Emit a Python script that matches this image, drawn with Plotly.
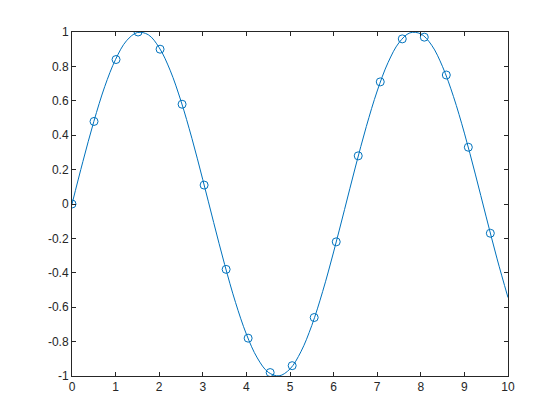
import plotly.graph_objects as go

curve_x = [i*0.25 for i in range(41)]
curve_y = [0, .247, .479, .682, .841, .949, .997, .984, .909, .778, .598, .382, .141, -.108, -.351, -.572,
           -.757, -.895, -.978, -.999, -.959, -.859, -.706, -.508, -.279, -.033, .215, .450, .657, .823,
           .938, .995, .989, .923, .798, .624, .412, .174, -.075, -.319, -.544]
mark_x = [0, 0.505, 1.01, 1.515, 2.02, 2.525, 3.03, 3.535, 4.04, 4.545, 5.05, 5.555, 6.06, 6.565,
          7.07, 7.575, 8.08, 8.585, 9.09, 9.595]
mark_y = [0, 0.48, 0.84, 1.0, 0.9, 0.58, 0.11, -0.38, -0.78, -0.98, -0.94, -0.66, -0.22, 0.28,
          0.71, 0.96, 0.97, 0.75, 0.33, -0.17]
xticks = list(range(11))
yticks = [-1, -0.8, -0.6, -0.4, -0.2, 0, 0.2, 0.4, 0.6, 0.8, 1]

c = '#0072BD'
fig = go.Figure()
fig.add_trace(go.Scatter(x=curve_x, y=curve_y, mode='lines', line=dict(color=c, width=1, shape='spline')))
fig.add_trace(go.Scatter(x=mark_x, y=mark_y, mode='markers',
                         marker=dict(symbol='circle-open', size=8, color=c, line=dict(width=1, color=c))))
ax = dict(showgrid=False, zeroline=False, showline=True, mirror='ticks', linecolor='#262626', linewidth=1,
          ticks='inside', ticklen=4, tickcolor='#262626', automargin=False,
          tickfont=dict(family='Arial', size=12, color='#262626'))
fig.update_layout(width=560, height=420, margin=dict(l=64, r=60, t=24, b=52, autoexpand=False), showlegend=False,
                  paper_bgcolor='white', plot_bgcolor='white',
                  xaxis=dict(range=[0, 10], tickvals=xticks, **ax),
                  yaxis=dict(range=[-1, 1], tickvals=yticks, ticktext=[str(v) for v in yticks], **ax))
fig.write_html("out.html")
